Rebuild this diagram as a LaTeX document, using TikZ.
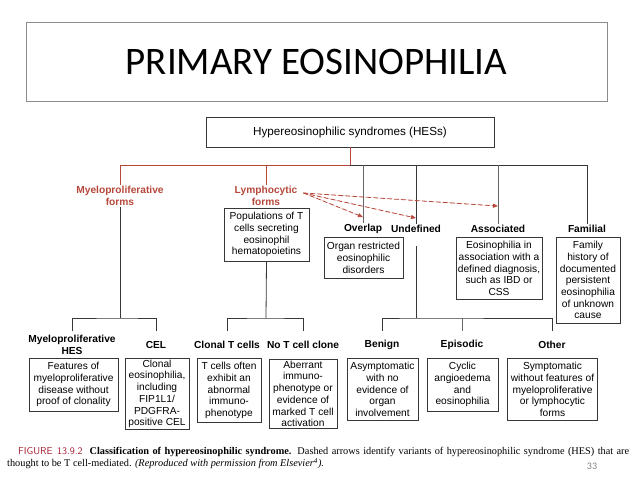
\documentclass[tikz,border=0pt]{standalone}
\usepackage{fontspec}
\setmainfont{Liberation Sans}
\newfontfamily\slidefont{Carlito}
\newfontfamily\captionfont{Liberation Serif}
\usetikzlibrary{positioning, arrows.meta}
\definecolor{hesred}{RGB}{181,72,58}
\definecolor{figred}{RGB}{165,30,50}
\definecolor{boxgray}{RGB}{55,55,55}

\begin{document}
\begin{tikzpicture}[
            x=1pt, y=-1pt,
            title box/.style={draw=black!45, line width=0.6pt, minimum width=581pt, minimum height=79pt, font=\slidefont\fontsize{39}{44}\selectfont},
            top box/.style={draw=boxgray, line width=0.8pt, minimum width=288pt, minimum height=30pt, font=\fontsize{11.7}{13}\selectfont},
            red label/.style={text=hesred, font=\bfseries\fontsize{10.2}{11.5}\selectfont, align=center, inner sep=1pt},
            type label/.style={font=\bfseries\fontsize{10.2}{11.5}\selectfont, align=center, inner sep=1pt},
            info box/.style={draw=boxgray, line width=0.8pt, anchor=north, align=center, inner xsep=1pt, inner ysep=4pt, font=\fontsize{10.2}{11.7}\selectfont},
            tree line/.style={draw=boxgray, line width=0.8pt},
            thin branch/.style={draw=black!60, line width=0.5pt},
            red line/.style={draw=hesred, line width=0.9pt},
            tcell arrow/.style={-{Triangle[length=5pt,width=4pt]}, draw=hesred, fill=hesred, line width=0.8pt, dash pattern=on 4.5pt off 2.5pt}
        ]
            \useasboundingbox (0,0) rectangle (638,478);

            % --- Slide title ---
            \node[title box] (title) at (316.5,61.5) {PRIMARY EOSINOPHILIA};

            % --- Top of the tree ---
            \node[top box] (hes) at (350,132) {Hypereosinophilic syndromes (HESs)};
            \node[red label] (myelo) at (120,196) {Myeloproliferative\\forms};
            \node[red label] (lympho) at (266,196) {Lymphocytic\\forms};
            \node[type label] (overlap) at (363,229) {Overlap};
            \node[type label] (undef) at (416,229) {Undefined};
            \node[type label] (assoc) at (498,229) {Associated};
            \node[type label] (famil) at (587,229) {Familial};

            % --- Middle boxes ---
            \node[info box, minimum width=85pt] (lymbox) at (266.5,208) {Populations of T\\cells secreting\\eosinophil\\hematopoietins};
            \node[info box, minimum width=79pt, inner ysep=5pt] (ovbox) at (363.5,237) {Organ restricted\\eosinophilic\\disorders};
            \node[info box, minimum width=86pt] (asbox) at (499,237) {Eosinophilia in\\association with a\\defined diagnosis,\\such as IBD or\\CSS};
            \node[info box, minimum width=64pt] (fambox) at (588,237) {Family\\history of\\documented\\persistent\\eosinophilia\\of unknown\\cause};

            % --- Bottom labels ---
            \node[type label] (myhes) at (72,345) {Myeloproliferative\\HES};
            \node[type label] (cel) at (156,345) {CEL};
            \node[type label] (clonal) at (227,345) {Clonal T cells};
            \node[type label] (noclone) at (303,345) {No T cell clone};
            \node[type label] (benign) at (382,345) {Benign};
            \node[type label] (episodic) at (462,345) {Episodic};
            \node[type label] (other) at (552,345) {Other};

            % --- Bottom boxes ---
            \node[info box, minimum width=89pt] (myhesbox) at (73.5,358) {Features of\\myeloproliferative\\disease without\\proof of clonality};
            \node[info box, minimum width=64pt, inner ysep=1.5pt] (celbox) at (157,358) {Clonal\\eosinophilia,\\including\\FIP1L1/\\PDGFRA-\\positive CEL};
            \node[info box, minimum width=64pt] (clonbox) at (229,358) {T cells often\\exhibit an\\abnormal\\immuno-\\phenotype};
            \node[info box, minimum width=68pt, inner ysep=1.5pt] (nocbox) at (303,359) {Aberrant\\immuno-\\phenotype or\\evidence of\\marked T cell\\activation};
            \node[info box, minimum width=71pt] (benbox) at (382.5,358) {Asymptomatic\\with no\\evidence of\\organ\\involvement};
            \node[info box, minimum width=71pt] (epibox) at (462.5,358) {Cyclic\\angioedema\\and\\eosinophilia};
            \node[info box, minimum width=90pt] (othbox) at (552.5,358) {Symptomatic\\without features of\\myeloproliferative\\or lymphocytic\\forms};

            % --- Tree lines ---
            \coordinate (split) at (350,165);
            \coordinate (droplevel) at (0,331);
            \coordinate (myjoin) at (120,318);
            \coordinate (lyjoin) at (266,318);
            \coordinate (unjoin) at (416,318);

            \draw[red line] (hes.south) -- (split) -| (myelo.north);
            \draw[red line] (lympho.north |- split) -- (lympho.north);
            \draw[tree line] (split) -| (famil.north);
            \draw[thin branch] (overlap.north |- split) -- (overlap.north);
            \draw[tree line] (undef.north |- split) -- (undef.north);
            \draw[thin branch] (assoc.north |- split) -- (assoc.north);

            \draw[tree line] (myelo.south) -- (myjoin);
            \draw[tree line] (myhes.north |- droplevel) |- (myjoin) -| (cel.north |- droplevel);
            \draw[tree line] (lymbox.south) -- (lyjoin);
            \draw[tree line] (clonal.north |- droplevel) |- (lyjoin) -| (noclone.north |- droplevel);
            \draw[tree line] ([yshift=-12pt]undef.south) -- (unjoin);
            \draw[tree line] (benign.north |- droplevel) |- (unjoin) -| (other.north |- droplevel);
            \draw[thin branch] (episodic.north |- unjoin) -- (episodic.north |- droplevel);

            % --- Dashed arrows (T cell-mediated variants) ---
            \coordinate (tstart) at ([shift={(5pt,3pt)}]lympho.east);
            \draw[tcell arrow] (tstart) -- ([yshift=6pt]overlap.north);
            \draw[tcell arrow] (tstart) -- ([yshift=6pt]undef.north);
            \draw[tcell arrow] (tstart) -- ([yshift=18pt]assoc.north);

            % --- Caption ---
            \node[anchor=base west, inner sep=0pt, font=\captionfont\fontsize{10.3}{12}\selectfont] (capone) at (18,455)
                {\makebox[611pt][s]{{\sffamily\fontsize{10}{12}\selectfont\color{figred}FIGURE 13.9.2}\hskip 7pt\textbf{Classification of hypereosinophilic syndrome.} Dashed arrows identify variants of hypereosinophilic syndrome (HES) that are}};
            \node[anchor=base west, inner sep=0pt, font=\captionfont\fontsize{10.3}{12}\selectfont] (captwo) at (7,467)
                {thought to be T cell-mediated. \textit{(Reproduced with permission from Elsevier\textsuperscript{4}).}};
            \node[text=black!50, font=\slidefont\fontsize{10}{12}\selectfont] (pagenum) at (592,466) {33};

        \end{tikzpicture}
\end{document}
